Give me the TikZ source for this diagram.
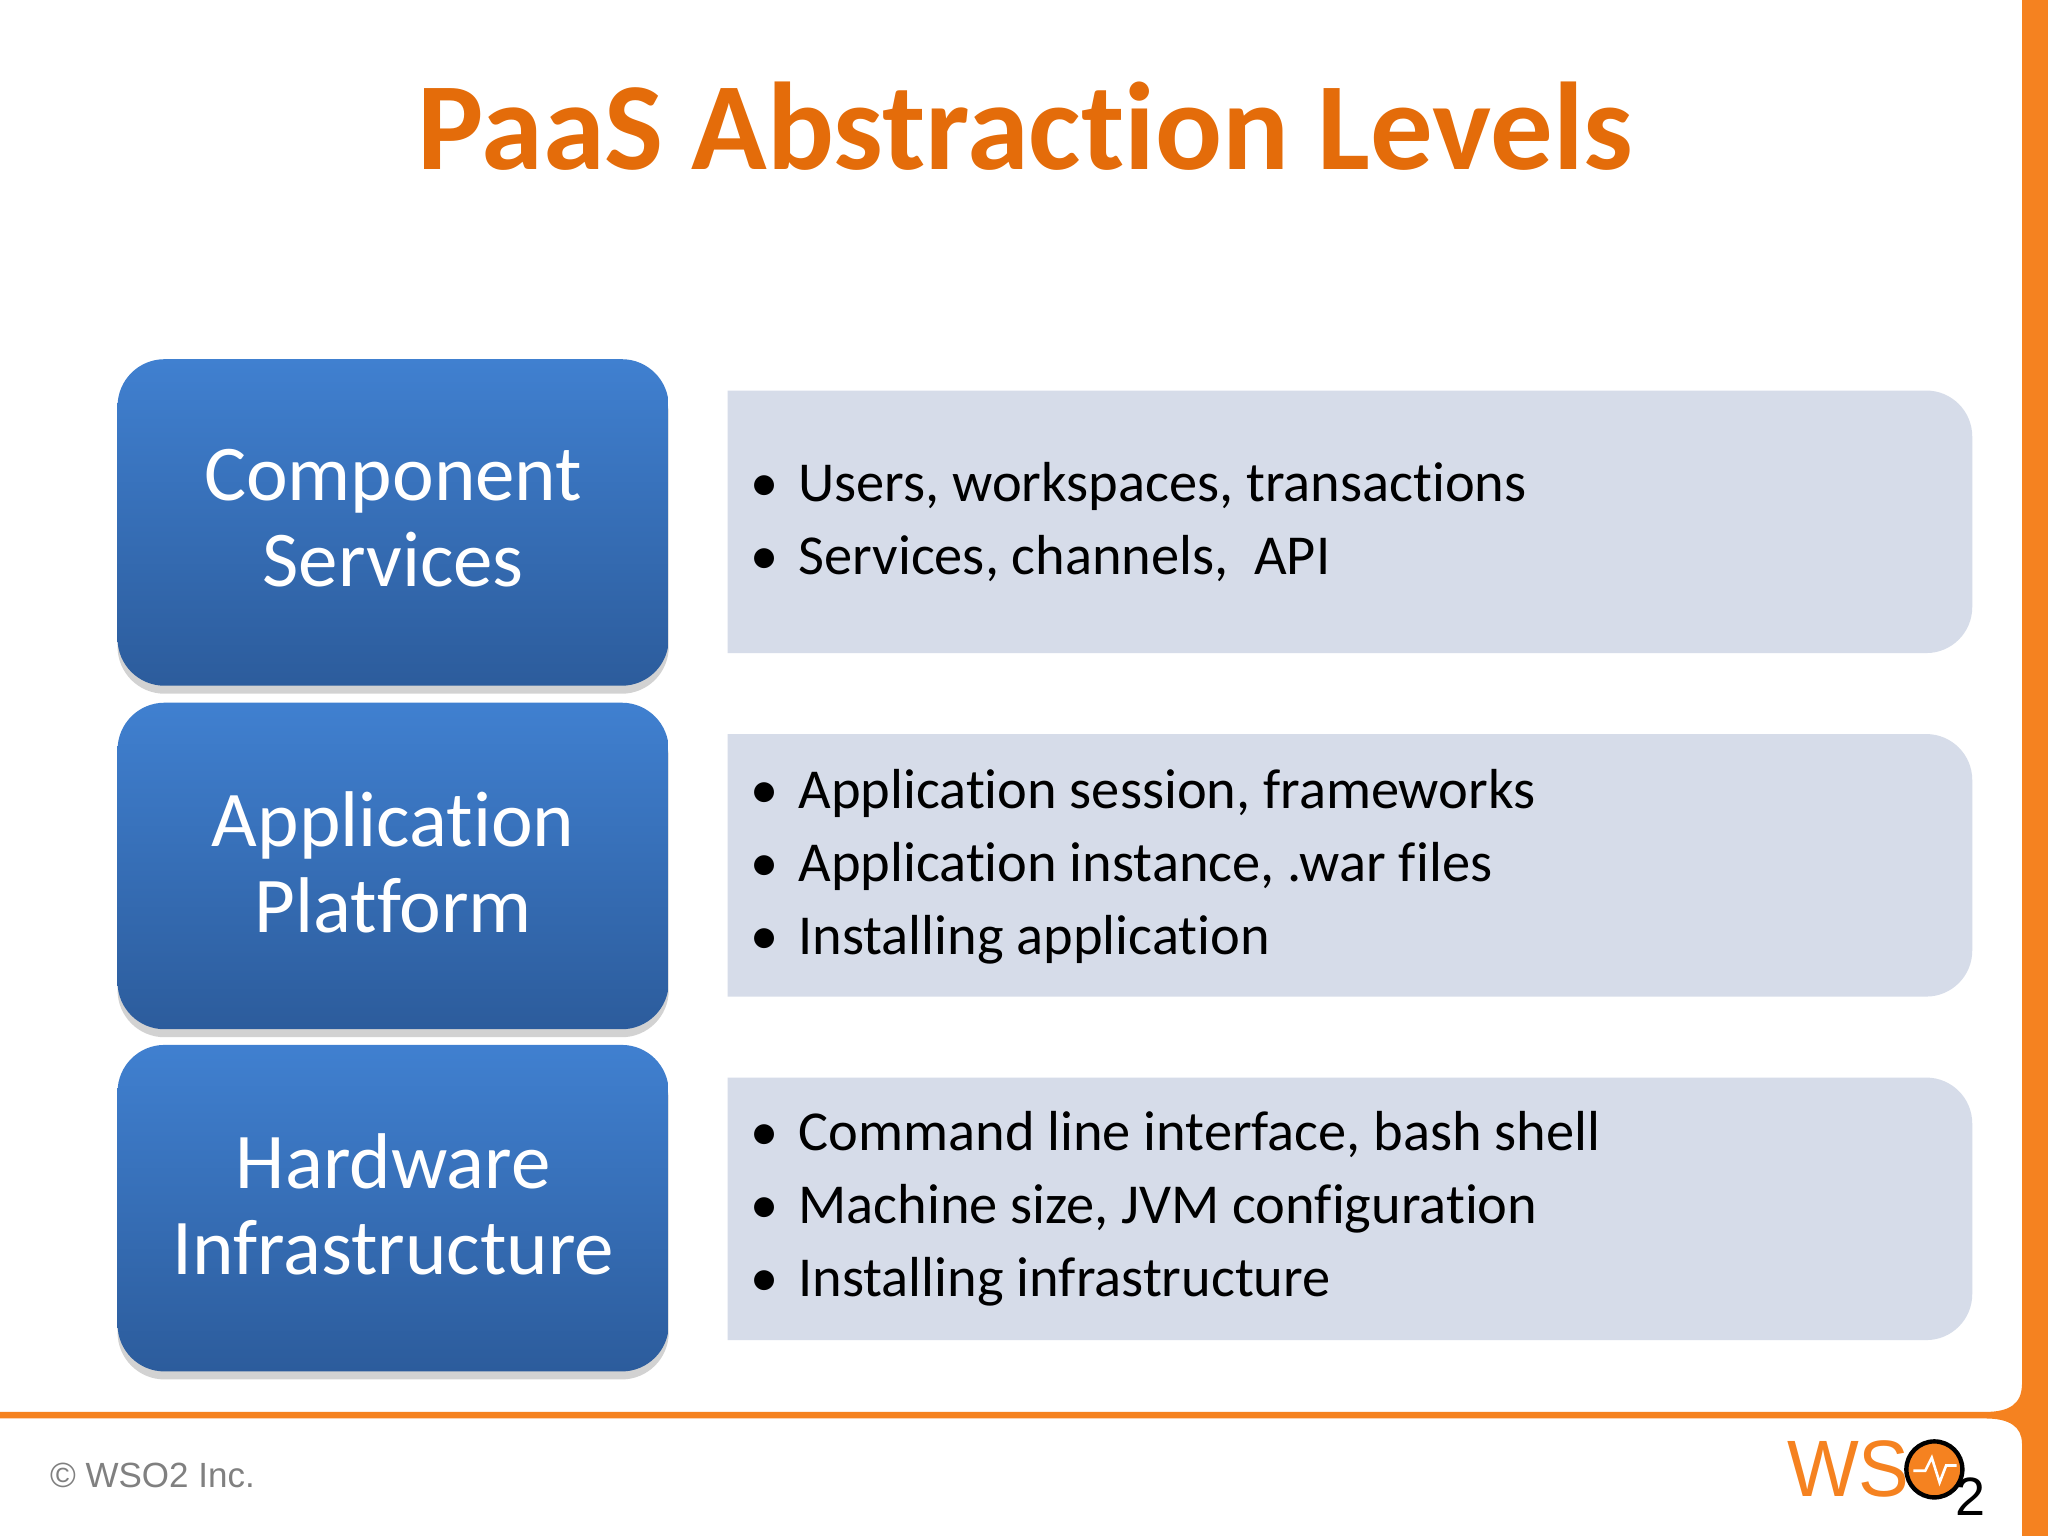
\documentclass[tikz,border=0pt]{standalone}
\usepackage{fontspec}
\setmainfont{Carlito}[RawFeature=-liga]
\newfontfamily\arialf{Liberation Sans}
\usetikzlibrary{shadows}
\definecolor{wsorange}{HTML}{F58220}
\definecolor{titleor}{HTML}{E46C0A}
\definecolor{btop}{HTML}{4080D0}
\definecolor{bbot}{HTML}{2C5C9C}
\definecolor{lightbox}{HTML}{D6DCE9}
\tikzset{
  lvl/.style={rounded corners=23.5pt, top color=btop, bottom color=bbot, draw=none,
    drop shadow={shadow xshift=0pt, shadow yshift=-4pt, opacity=0.35}},
  lvltext/.style={text=white, align=center, font=\fontsize{39.5}{43}\selectfont},
  bul/.style={anchor=base west, inner sep=0, font=\fontsize{28.2}{32}\selectfont, text=black},
}
\begin{document}
\begin{tikzpicture}[x=0.653pt,y=-0.653pt]
\useasboundingbox (0,0) rectangle (1568,1176);
\fill[white] (0,0) rectangle (1568,1176);
% orange frame
\fill[wsorange] (1548,0) rectangle (1568,1176);
\fill[wsorange] (0,1081) -- (1520,1081) .. controls (1538,1081) and (1548,1075) .. (1548,1060) -- (1548,1105) .. controls (1548,1092) and (1538,1086) .. (1520,1086) -- (0,1086) -- cycle;
% title
\node[font=\fontsize{62.4}{68}\selectfont\bfseries, text=titleor, anchor=base] (title) at (785,130) {PaaS Abstraction Levels};
% left boxes
\foreach \n/\y/\t in {a/275/{Component\\Services}, b/538/{Application\\Platform}, c/800/{Hardware\\Infrastructure}}{
  \path[lvl] (90,\y) rectangle ++(422,250);
  \node[lvltext] (\n) at (301,\y+122) {\t};
}
% right boxes
\foreach \n/\y in {ra/299, rb/562, rc/825}{
  \fill[lightbox] (557,\y+201) -- (557,\y) [rounded corners=23pt] -- (1510,\y) -- (1510,\y+201) [sharp corners] -- (557,\y+201) -- cycle;
  \coordinate (\n) at (557,\y);
}
\newcommand{\bl}[3]{\node[bul] at (574,#1) {\textbullet}; \node[bul] (#2) at (611,#1) {#3};}
\bl{384}{t1}{Users, workspaces, transactions}
\bl{440}{t2}{Services, channels,\ \ API}
\bl{619}{t3}{Application session, frameworks}
\bl{675}{t4}{Application instance, .war files}
\bl{731}{t5}{Installing application}
\bl{881}{t6}{Command line interface, bash shell}
\bl{937}{t7}{Machine size, JVM configuration}
\bl{993}{t8}{Installing infrastructure}
% footer
\node[anchor=base west, inner sep=0, font=\arialf\fontsize{17.5}{19}\selectfont, text=gray] (copy) at (38,1139) {© WSO2 Inc.};
% logo
\node[anchor=base west, font=\arialf\fontsize{40}{44}\selectfont, text=wsorange, inner sep=0, xscale=0.95] (ws) at (1368,1146) {WS};
\node[circle, fill=wsorange, draw=black, line width=2.2pt, minimum size=28pt, inner sep=0] (o) at (1481,1125) {};
\draw[white, line width=1.3pt] (1465,1126) -- (1474,1126) -- (1479,1116) -- (1485,1135) -- (1490,1122) -- (1498,1122);
\node[anchor=base west, font=\arialf\fontsize{27}{30}\selectfont, text=black, inner sep=0] (two) at (1497,1160) {2};
\end{tikzpicture}
\end{document}
